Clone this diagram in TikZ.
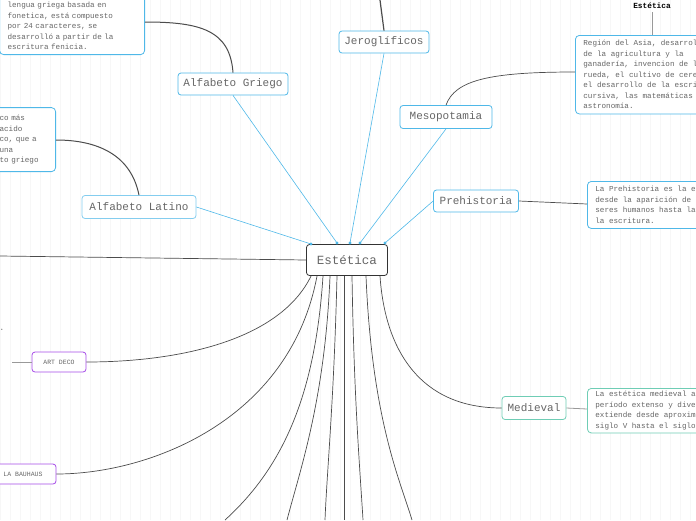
\documentclass[tikz,border=0pt]{standalone}
\usepackage{fontspec}
\setmainfont{Liberation Mono}
\begin{document}
\begin{tikzpicture}[x=1pt,y=-1pt,
  topic/.style={draw=#1,rounded corners=3pt,fill=white,line width=0.8pt,font=\fontsize{11}{12}\selectfont,text=black!60,inner sep=0pt},
  note/.style={draw=#1,rounded corners=4pt,fill=white,line width=0.8pt,font=\fontsize{7.6}{10.5}\selectfont,text=black!60,align=left,inner xsep=8pt,inner ysep=5pt},
  blue/.style={draw=cyan!70!blue!80,line width=0.6pt},
  dark/.style={draw=black!70,line width=0.7pt}]
\useasboundingbox (0,0) rectangle (696,520);
\definecolor{bl}{HTML}{4FB8E8}
\definecolor{tl}{HTML}{6FCDB5}
\definecolor{pu}{HTML}{A64CE8}
% grid
\draw[black!3,step=10] (0,0) grid (696,520);
% notes
\node[note=bl,anchor=south east,text width=129pt] (gn) at (145,55) {Sistema de escritura de la\\lengua griega basada en\\fonetica, está compuesto\\por 24 caracteres, se\\desarrolló a partir de la\\escritura fenicia.};
\node[note=bl,anchor=south east,minimum height=64pt,text width=48pt] (ln) at (56,172) {co más\\acido\\co, que a\\una\\to griego};
\node[note=bl,anchor=north west,minimum height=73pt] (mn) at (575,35) {Región del Asia, desarrollo\\de la agricultura y la\\ganadería, invencion de la\\rueda, el cultivo de cereal\\el desarrollo de la escritura\\cursiva, las matemáticas y\\astronomía.};
\node[note=bl,anchor=north west,minimum height=47pt] (pn) at (587,181) {La Prehistoria es la etapa\\desde la aparición de los\\seres humanos hasta la\\la escritura.};
\node[note=tl,anchor=north west,minimum height=42pt,inner ysep=3pt] (dn) at (587,388) {La estética medieval abarca\\período extenso y diverso\\extiende desde aproximada\\siglo V hasta el siglo XV};
\node[font=\bfseries\fontsize{7.8}{9}\selectfont] (et) at (652,6) {Estética};
\draw[black!40,line width=0.8pt] (et.south) -- (mn.north -| et.south);
% main
\node[topic=black!80,minimum width=81pt,minimum height=31pt,font=\fontsize{12.5}{13}\selectfont] (e) at (347,260) {Estética};
\node[topic=bl,minimum width=110pt,minimum height=22pt] (ag) at (233,84) {Alfabeto Griego};
\node[topic=bl,minimum width=90pt,minimum height=22pt] (je) at (384,42) {Jeroglíficos};
\node[topic=bl,minimum width=92pt,minimum height=23pt] (me) at (446,117) {Mesopotamia};
\node[topic=bl,minimum width=85pt,minimum height=22pt] (pr) at (476,201) {Prehistoria};
\node[topic=bl!70,minimum width=114pt,minimum height=23pt] (al) at (139,207) {Alfabeto Latino};
\node[topic=tl,minimum width=64pt,minimum height=23pt] (md) at (534,408) {Medieval};
\node[topic=pu,minimum width=54pt,minimum height=20pt,font=\fontsize{6.5}{7}\selectfont] (ad) at (59,362) {ART DECO};
\node[topic=pu,minimum width=76pt,minimum height=20pt,font=\fontsize{6.5}{7}\selectfont] (bh) at (18,474) {\hspace*{10pt}LA BAUHAUS};
\node[font=\tiny,text=black!50] (dot) at (2,330) {•};
% blue connectors
\coordinate (t1) at (311,244); \coordinate (t2) at (337,243);
\coordinate (t3) at (350,243); \coordinate (t4) at (360,243); \coordinate (t5) at (385,243);
\foreach \c in {t1,t2,t3,t4,t5} \fill[bl] (\c) circle (1.6pt);
\draw[blue,bl] (t1) -- (al.east);
\draw[blue,bl] (t2) -- (ag.south);
\draw[blue,bl] (t3) -- (je.south);
\draw[blue,bl] (t4) -- (me.south);
\draw[blue,bl] (t5) -- (pr.west);
% dark curves to notes
\draw[dark,line width=1pt] (ag.north) .. controls (230,30) and (200,22) .. (gn.east |- 0,22);
\draw[dark,line width=1pt] (al.north) .. controls (130,150) and (90,140) .. (ln.east |- 0,140);
\draw[dark] (me.north) .. controls (455,80) and (490,72) .. (mn.west |- 0,72);
\draw[dark] (pr.east) -- (pn.west |- 0,204);
\draw[black!40,line width=0.8pt] (md.east) -- (dn.west |- 0,409);
\draw[dark,line width=1.2pt] (je.north) -- (380,0);
% left lines
\coordinate (L0) at (0,256);
\draw[dark] (e.west) -- (L0);
\coordinate (ad0) at (12,362);
\draw[black!40] (ad.west) -- (ad0);
\draw[dark] (e.south west) ++(5,0) .. controls (280,340) and (180,362) .. (ad.east);
\draw[dark] (317,276) .. controls (290,420) and (150,474) .. (bh.east);
\draw[dark] (md.west) .. controls (420,408) and (385,350) .. (380,276);
% bottom curves
\coordinate (b1) at (225,520); \coordinate (b2) at (287,520); \coordinate (b3) at (325,520);
\coordinate (b4) at (344,520); \coordinate (b5) at (363,520); \coordinate (b6) at (412,520);
\draw[dark] (323,276) .. controls (315,400) and (280,470) .. (b1);
\draw[dark] (330,276) .. controls (325,400) and (300,470) .. (b2);
\draw[dark] (337,276) .. controls (334,400) and (327,470) .. (b3);
\draw[dark] (344,276) -- (b4);
\draw[dark] (352,276) .. controls (354,400) and (360,470) .. (b5);
\draw[dark] (366,276) .. controls (372,420) and (400,480) .. (b6);
\end{tikzpicture}
\end{document}
